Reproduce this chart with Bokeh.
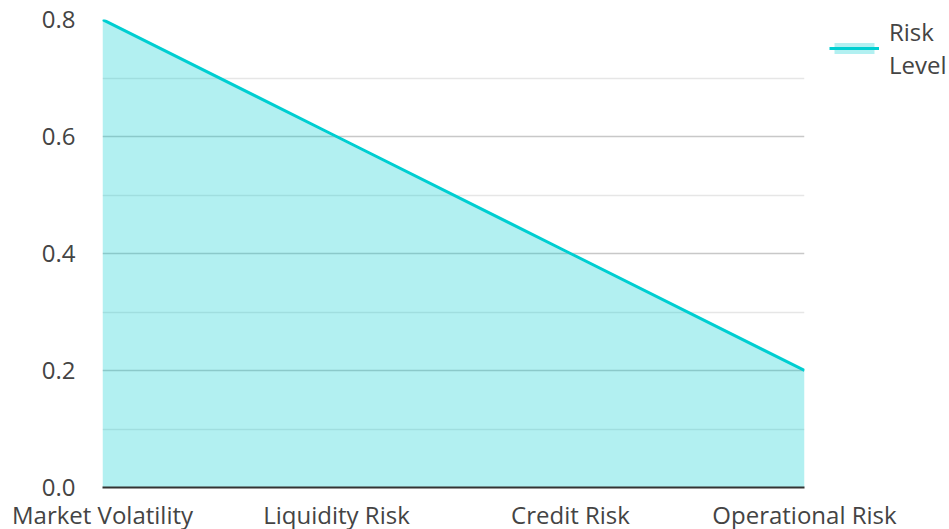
from bokeh.plotting import figure
from bokeh.models import Legend, LegendItem, FixedTicker, ColumnDataSource
from bokeh.embed import file_html
from bokeh.resources import INLINE

categories = ["Market Volatility", "Liquidity Risk", "Credit Risk", "Operational Risk"]
risk_level = [0.8, 0.6, 0.4, 0.2]
y_ticks = [0.0, 0.2, 0.4, 0.6, 0.8]
y_minor = [0.1, 0.3, 0.5, 0.7]

xs = list(range(len(categories)))
src = ColumnDataSource(dict(x=xs, y=risk_level, y0=[0] * len(xs)))

FONT = "Open Sans"
TXT = "#444444"
COL = "#00CED1"

p = figure(frame_width=702, frame_height=468, output_backend="svg", toolbar_location=None,
           x_range=(0, len(categories) - 1), y_range=(0, 0.8),
           min_border_left=102, min_border_top=19, min_border_right=0, min_border_bottom=0)
p.outline_line_color = None
p.background_fill_color = "white"

area = p.varea(x="x", y1="y0", y2="y", source=src, fill_color=COL, fill_alpha=0.3)
line = p.line(x="x", y="y", source=src, line_color=COL, line_width=3)

p.xaxis.ticker = FixedTicker(ticks=xs)
p.xaxis.major_label_overrides = {i: c for i, c in enumerate(categories)}
p.yaxis.ticker = FixedTicker(ticks=y_ticks, minor_ticks=y_minor)
p.yaxis.major_label_overrides = {t: f"{t:.1f}" for t in y_ticks}

for ax in (p.xaxis[0], p.yaxis[0]):
    ax.major_label_text_font = FONT
    ax.major_label_text_font_size = "24px"
    ax.major_label_text_color = TXT
    ax.major_tick_line_color = None
    ax.minor_tick_line_color = None
p.yaxis.axis_line_color = None
p.yaxis.major_label_standoff = 21
p.xaxis.axis_line_color = "#333333"
p.xaxis.axis_line_width = 2
p.xaxis.major_label_standoff = 4

p.xgrid.grid_line_color = None
p.ygrid.grid_line_color = "#c8c8c8"
p.ygrid.grid_line_width = 1.5
p.ygrid.minor_grid_line_color = "#e6e6e6"
p.ygrid.minor_grid_line_width = 1.5

legend = Legend(items=[LegendItem(label="Risk\nLevel", renderers=[area, line])],
                location=(25, 406), border_line_color=None, background_fill_alpha=0,
                label_text_font=FONT, label_text_font_size="24px", label_text_color=TXT,
                glyph_width=50, glyph_height=14, margin=0, padding=0, spacing=0,
                label_standoff=10)
p.add_layout(legend, "right")

open("out.html", "w").write(file_html(p, INLINE))
